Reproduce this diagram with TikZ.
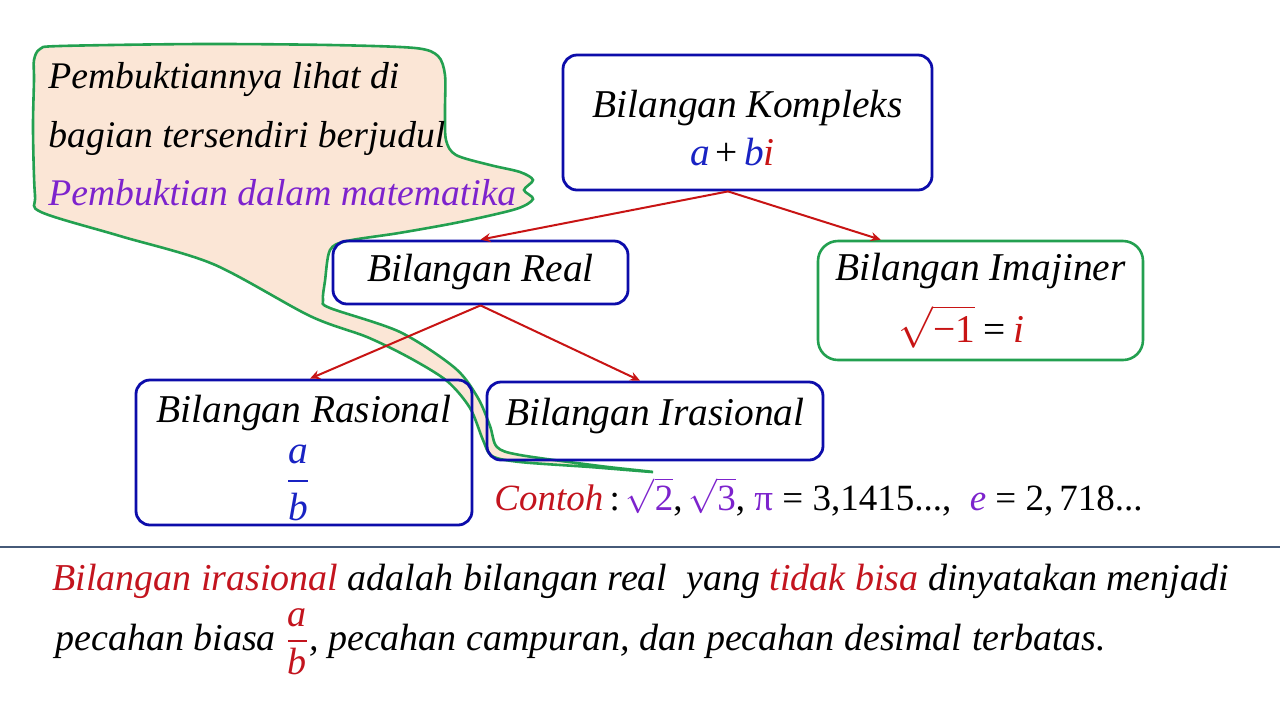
\documentclass[tikz,border=0pt]{standalone}
\usepackage{amsmath}
\usepackage{fontspec}
\setmainfont{Liberation Serif}
\usetikzlibrary{arrows.meta,calc}
\definecolor{bxblue}{RGB}{12,12,170}
\definecolor{mblue}{RGB}{25,35,195}
\definecolor{ared}{RGB}{200,20,20}
\definecolor{tred}{RGB}{195,20,30}
\definecolor{purp}{RGB}{125,35,205}
\definecolor{gbox}{RGB}{35,160,80}
\definecolor{peach}{RGB}{251,230,214}
\definecolor{rulec}{RGB}{70,90,120}
\newcommand{\myfrac}{\ensuremath{\genfrac{}{}{0.9pt}{0}{\mbox{\itshape a}}{\mbox{\itshape b}}}}
\begin{document}
\begin{tikzpicture}[x=0.5pt,y=-0.5pt,
  wavybox/.style={draw=bxblue, line width=1.4pt, rounded corners=7pt, inner sep=0pt,
    align=center, font=\fontsize{19.7}{24}\selectfont\itshape},
  greenbox/.style={draw=gbox, line width=1.3pt, rounded corners=10pt, inner sep=0pt,
    align=center, font=\fontsize{19.7}{24}\selectfont\itshape},
  arr/.style={draw=ared, line width=1pt, -{Stealth[length=5pt,width=4.5pt]}},
  calltext/.style={anchor=base west, inner sep=0pt, font=\fontsize{18.8}{23}\selectfont\itshape},
  deftext/.style={anchor=base west, inner sep=0pt, font=\fontsize{19}{24}\selectfont\itshape}]
\useasboundingbox (0,0) rectangle (1280,720);
\fill[white] (0,0) rectangle (1280,720);

% callout
\draw[draw=gbox, fill=peach, line width=1.3pt] plot[smooth cycle, tension=0.5] coordinates {
 (34,60) (40,49) (60,46) (200,44) (330,45) (415,48) (438,56) (445,75) (445,110) (446,140)
 (456,155) (490,165) (520,172) (533,180) (524,190) (533,199) (516,209) (460,222) (399,233)
 (347,241) (330,250) (325,281) (323,300) (330,308) (400,332) (455,368) (478,398) (490,426)
 (497,447) (520,455) (600,466) (653,472) (590,467) (520,462) (492,456) (483,440) (470,408)
 (447,381) (410,358) (367,337) (310,316) (213,264) (120,236) (41,212) (35,195) (33,130)
 (34,80)};
\node[calltext] (c1) at (48,88) {Pembuktiannya lihat di};
\node[calltext] (c2) at (48,147) {bagian tersendiri berjudul};
\node[calltext, text=purp] (c3) at (48,205) {Pembuktian dalam matematika};

% boxes
\node[wavybox, minimum width=184.5pt, minimum height=67.5pt] (K) at (747.5,122.5)
  {\rule{0pt}{19.6pt}Bilangan Kompleks\\ \textcolor{mblue}{a}\hspace{3pt}{\upshape +}\hspace{3pt}\textcolor{mblue}{b}\textcolor{ared}{i}\hspace*{15pt}};
\node[wavybox, minimum width=147.5pt, minimum height=31.5pt] (R) at (480.5,272.5) {Bilangan Real};
\node[greenbox, minimum width=162.5pt, minimum height=59.5pt] (I) at (980.5,300.5)
  {Bilangan Imajiner\\[7pt] \textcolor{ared}{$\sqrt{\mbox{\upshape −1}}$}\hspace{4pt}{\upshape =}\hspace{4pt}\textcolor{ared}{i}\hspace*{19pt}};
\node[wavybox, minimum width=168pt, minimum height=72.5pt] (Ra) at (304,452.5)
  {\rule{0pt}{19pt}Bilangan Rasional\\[6pt] \textcolor{mblue}{\myfrac}\hspace*{6pt}};
\node[wavybox, minimum width=168pt, minimum height=39pt] (Ir) at (655,421) {Bilangan Irasional\rule[-9pt]{0pt}{0pt}};

% arrows
\draw[arr] ([xshift=-9.75pt]K.south) -- (R.north);
\draw[arr] ([xshift=-9.75pt]K.south) -- ([xshift=32pt]I.north west);
\draw[arr] (R.south) -- ([xshift=3pt]Ra.north);
\draw[arr] (R.south) -- ([xshift=-7.5pt]Ir.north);

% example line
\node[anchor=base west, inner sep=0pt, font=\fontsize{18.5}{22}\selectfont] (ex) at (494,510)
  {\textcolor{tred}{\itshape Contoh}\,:\,\textcolor{purp}{$\sqrt{\mbox{2}}$},\,\textcolor{purp}{$\sqrt{\mbox{3}}$}, \textcolor{purp}{π} = 3,1415..., \ \textcolor{purp}{\itshape e} = 2,\,718...};

% rule
\draw[rulec, line width=1pt] (0,547) -- (1280,547);

% definition
\node[deftext] (d1) at (52,590)
  {\textcolor{tred}{Bilangan irasional} adalah bilangan real \ yang \textcolor{tred}{tidak bisa} dinyatakan menjadi};
\node[deftext] (d2) at (55,650)
  {pecahan biasa \textcolor{tred}{\myfrac}, pecahan campuran, dan pecahan desimal terbatas.};
\end{tikzpicture}
\end{document}
